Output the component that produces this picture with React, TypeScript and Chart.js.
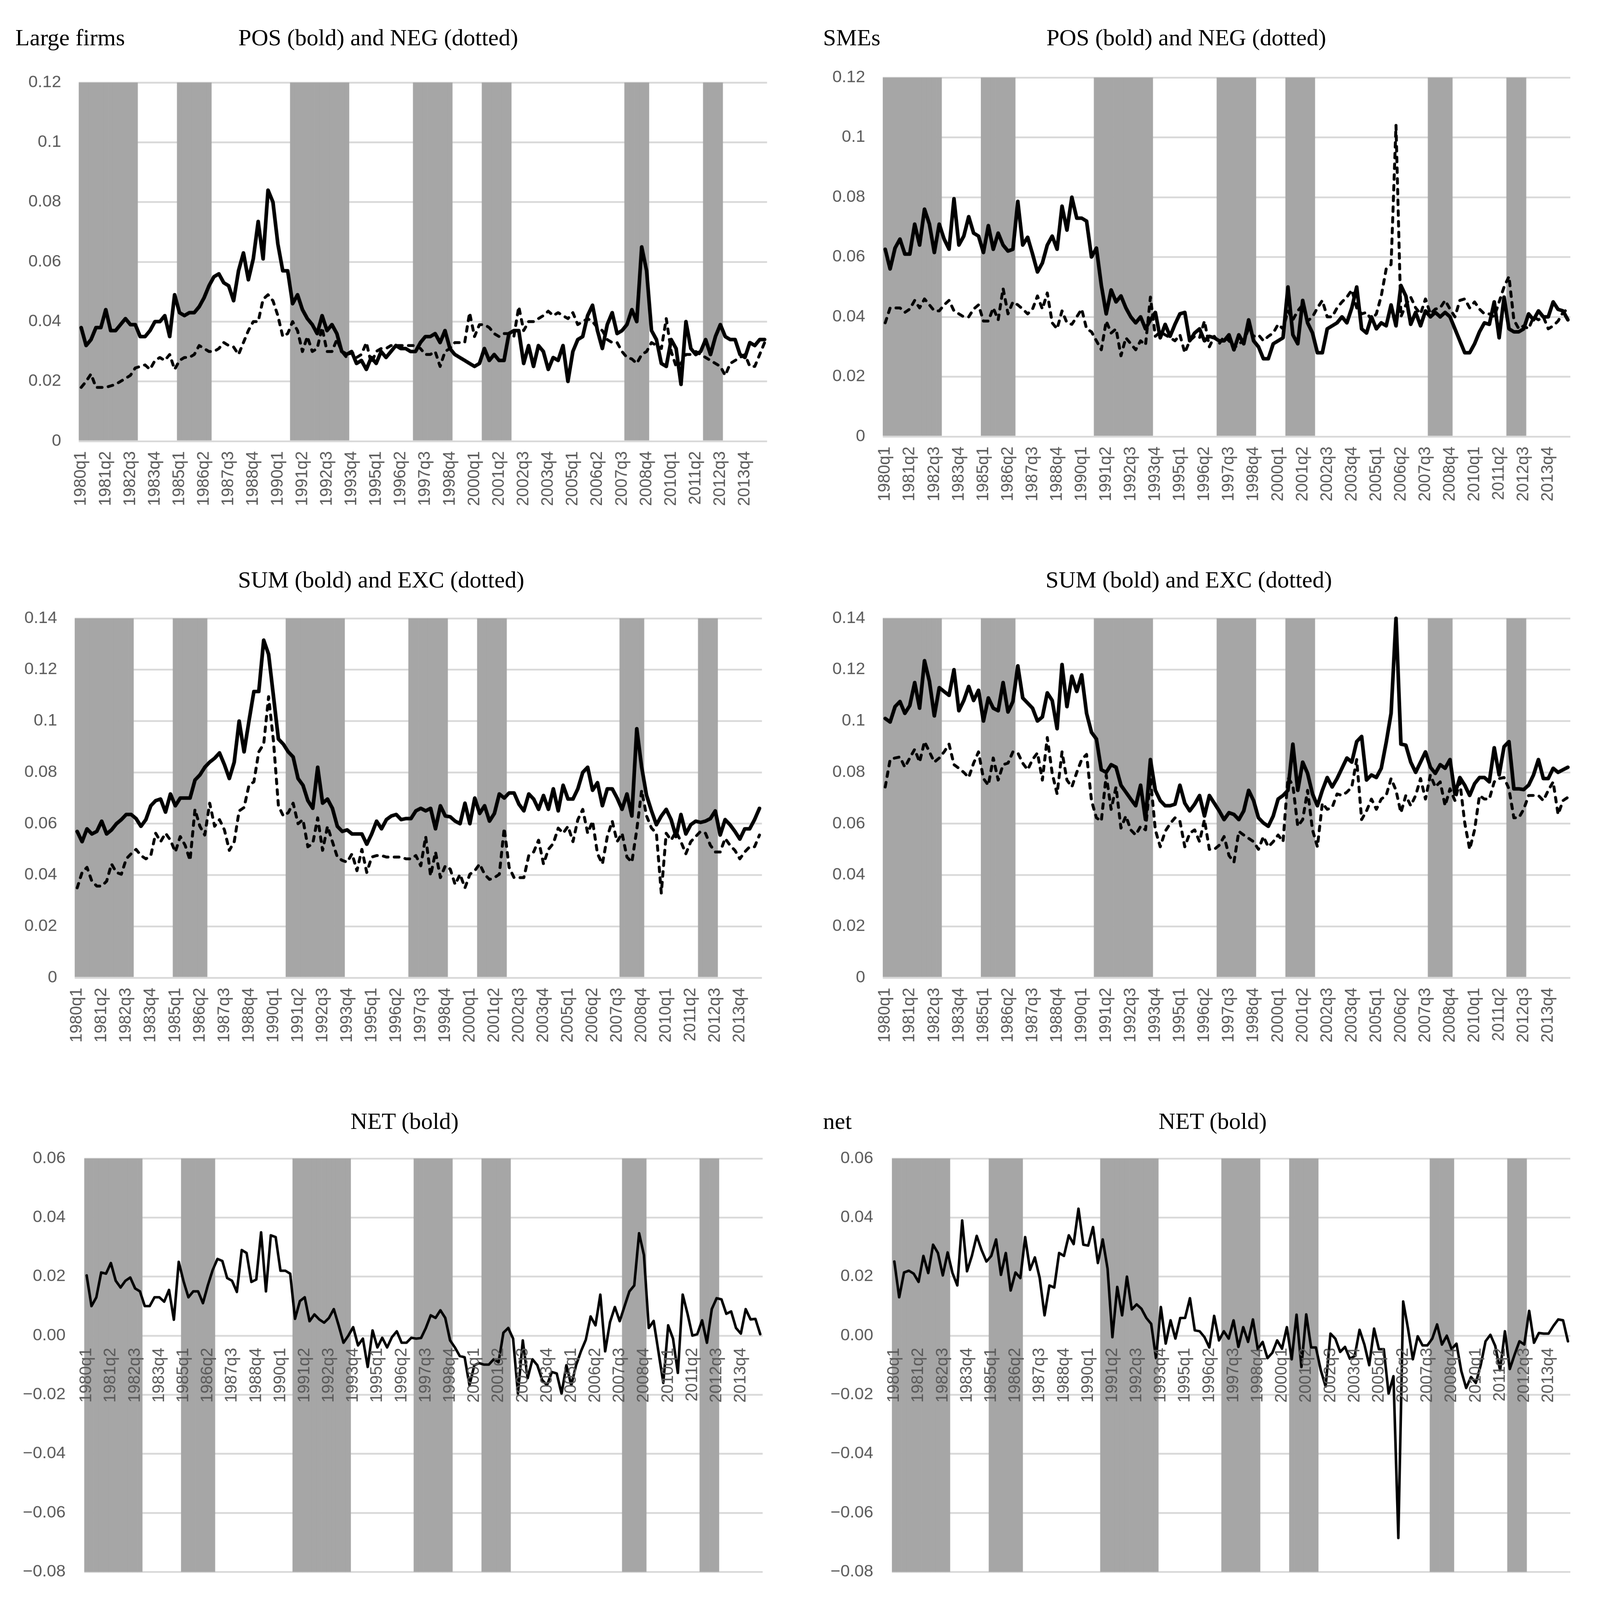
import React, { useEffect, useRef, useState } from 'react';
import { Chart, registerables } from 'chart.js';
Chart.register(...registerables);

const SANS = "'Liberation Sans', Arial, sans-serif";
const SERIF = "'Liberation Serif', 'Times New Roman', serif";
const PAGE_W = 4370;
const PAGE_H = 4479;

// Quarterly categories 1980q1 .. 2014q4
const years: number[] = [];
for (let y = 1980; y <= 2014; y++) years.push(y);
const categories: string[] = [];
years.forEach((y) => { for (let q = 1; q <= 4; q++) categories.push(`${y}q${q}`); });

// Shaded periods (inclusive)
const recessionPeriods: [string, string][] = [
  ['1980q1', '1982q4'], ['1985q1', '1986q3'], ['1990q4', '1993q3'], ['1997q1', '1998q4'],
  ['2000q3', '2001q4'], ['2007q4', '2008q4'], ['2011q4', '2012q3'],
];
const recessionFlags = categories.map((_, i) =>
  recessionPeriods.some(([a, b]) => i >= categories.indexOf(a) && i <= categories.indexOf(b)));

const largePos = [
  .038,.032,.034,.038,.038,.044,.037,.037,.039,.041,
  .039,.039,.035,.035,.037,.040,.040,.042,.035,.049,
  .043,.042,.043,.043,.045,.048,.052,.055,.056,.053,
  .052,.047,.057,.063,.054,.061,.0735,.061,.084,.080,
  .066,.057,.057,.046,.049,.044,.041,.039,.036,.042,
  .037,.039,.036,.030,.029,.030,.026,.027,.024,.028,
  .026,.030,.028,.030,.032,.031,.031,.030,.030,.033,
  .035,.035,.036,.033,.037,.031,.029,.028,.027,.026,
  .025,.026,.031,.027,.029,.027,.027,.036,.037,.037,
  .026,.032,.025,.032,.030,.024,.028,.027,.032,.020,
  .030,.034,.035,.042,.0455,.037,.031,.039,.043,.036,
  .037,.039,.044,.040,.065,.057,.037,.034,.026,.025,
  .034,.031,.019,.040,.031,.029,.030,.034,.029,.035,
  .039,.035,.034,.034,.029,.028,.033,.032,.034,.034,
];
const largeNeg = [
  .018,.020,.0225,.018,.018,.018,.0185,.019,.020,.021,
  .022,.0245,.025,.0255,.024,.027,.028,.027,.029,.024,
  .027,.028,.028,.029,.032,.031,.030,.030,.031,.033,
  .032,.0315,.029,.033,.037,.040,.040,.0475,.049,.047,
  .042,.035,.036,.040,.037,.030,.035,.030,.031,.038,
  .030,.030,.034,.030,.028,.030,.028,.029,.033,.026,
  .030,.031,.031,.032,.032,.032,.032,.032,.032,.031,
  .029,.029,.030,.025,.030,.031,.033,.033,.033,.043,
  .035,.039,.039,.038,.036,.035,.036,.036,.035,.045,
  .037,.040,.040,.041,.042,.0435,.042,.043,.042,.041,
  .043,.039,.040,.041,.040,.038,.037,.034,.033,.033,
  .030,.028,.0275,.026,.029,.030,.033,.032,.031,.041,
  .030,.025,.026,.029,.029,.030,.029,.028,.027,.026,
  .025,.022,.026,.027,.028,.029,.025,.025,.029,.033,
];
const smePos = [
  .0626,.056,.063,.066,.061,.061,.071,.064,.076,.071,
  .0615,.071,.066,.0626,.0795,.064,.067,.0735,.068,.067,
  .0615,.0705,.0626,.068,.064,.062,.0626,.0786,.064,.0666,
  .061,.055,.058,.064,.067,.0626,.077,.069,.080,.073,
  .073,.072,.060,.063,.0506,.041,.049,.045,.047,.043,
  .040,.038,.040,.036,.039,.0415,.033,.0375,.0335,.0375,
  .041,.0415,.032,.0346,.036,.032,.0335,.033,.032,.032,
  .034,.029,.034,.031,.039,.032,.030,.026,.026,.031,
  .032,.033,.050,.034,.031,.0455,.038,.0346,.028,.028,
  .036,.037,.038,.040,.038,.043,.050,.036,.0346,.040,
  .036,.038,.037,.044,.037,.0505,.047,.0375,.0415,.037,
  .042,.040,.0415,.040,.0415,.040,.036,.032,.028,.028,
  .031,.035,.038,.0375,.045,.033,.0466,.036,.035,.035,
  .036,.041,.039,.042,.040,.040,.045,.0425,.042,.039,
];
const smeNeg = [
  .038,.043,.043,.043,.0415,.0426,.0455,.043,.046,.044,
  .042,.042,.044,.0455,.042,.041,.040,.040,.0426,.044,
  .0386,.0386,.043,.039,.0495,.041,.045,.044,.0426,.041,
  .0426,.047,.0426,.048,.038,.036,.042,.038,.0375,.040,
  .0426,.036,.035,.032,.029,.0386,.0346,.036,.027,.033,
  .031,.029,.032,.0306,.0466,.0335,.035,.034,.033,.032,
  .034,.028,.032,.0335,.033,.0386,.030,.0335,.031,.0335,
  .032,.0295,.031,.032,.036,.0335,.034,.032,.0335,.0346,
  .0375,.036,.042,.039,.042,.044,.0386,.040,.043,.0455,
  .040,.040,.043,.045,.0466,.049,.043,.041,.0415,.039,
  .041,.047,.056,.0575,.104,.040,.044,.0466,.043,.041,
  .046,.041,.0426,.043,.0455,.0426,.040,.0455,.046,.043,
  .045,.0426,.041,.041,.040,.045,.050,.0535,.039,.036,
  .037,.036,.040,.039,.040,.036,.037,.0386,.0415,.0426,
];
const largeSum = [
  .057,.053,.058,.056,.057,.061,.056,.0576,.060,.0616,
  .0636,.0636,.062,.059,.0616,.067,.069,.0696,.0645,.0716,
  .067,.070,.070,.070,.077,.079,.082,.084,.0855,.0876,
  .083,.0776,.084,.100,.088,.100,.1115,.1115,.1315,.126,
  .1095,.093,.091,.088,.086,.0776,.075,.069,.066,.082,
  .068,.0696,.066,.059,.057,.0576,.056,.056,.056,.052,
  .056,.061,.058,.0616,.063,.0636,.0616,.062,.062,.065,
  .066,.065,.066,.058,.067,.063,.0627,.061,.060,.068,
  .060,.070,.064,.067,.061,.064,.0716,.070,.072,.072,
  .0676,.065,.0716,.0696,.0656,.071,.0656,.0736,.065,.075,
  .0696,.0696,.0736,.080,.082,.073,.076,.067,.0736,.0736,
  .070,.0656,.0716,.063,.097,.082,.071,.065,.0596,.063,
  .0656,.0616,.055,.0636,.056,.0596,.061,.0605,.061,.062,
  .065,.0556,.0616,.0596,.057,.054,.058,.058,.0616,.066,
];
const largeExc = [
  .035,.041,.043,.0376,.0357,.0357,.0376,.0443,.041,.0403,
  .0463,.0483,.050,.0476,.0463,.0476,.0563,.053,.0563,.0536,
  .049,.055,.0516,.0457,.0656,.059,.0556,.068,.059,.0616,
  .0576,.0496,.053,.065,.0663,.075,.0763,.088,.091,.1095,
  .092,.067,.063,.0643,.068,.060,.0616,.051,.0523,.0623,
  .0496,.059,.053,.047,.0457,.045,.0483,.0417,.050,.041,
  .047,.0476,.0476,.047,.047,.047,.047,.0463,.0463,.0476,
  .0436,.055,.0397,.049,.039,.0436,.0423,.0363,.0403,.035,
  .0403,.0417,.0443,.0403,.0383,.039,.0403,.0583,.043,.039,
  .039,.039,.0476,.049,.0536,.0443,.050,.0523,.0583,.0563,
  .059,.053,.0616,.0656,.0563,.061,.0483,.0443,.055,.061,
  .053,.0563,.047,.045,.0576,.073,.063,.0583,.0563,.033,
  .0563,.0536,.057,.053,.0483,.053,.055,.057,.0563,.0516,
  .049,.049,.0543,.0516,.0496,.0463,.049,.051,.051,.0556,
];
const smeSum = [
  .101,.0996,.1056,.1076,.103,.106,.115,.105,.1235,.1155,
  .102,.113,.1115,.110,.120,.104,.108,.1135,.108,.112,
  .100,.109,.105,.104,.115,.1035,.1076,.1215,.109,.107,
  .105,.100,.1016,.111,.108,.097,.122,.1056,.1175,.1115,
  .118,.103,.0956,.093,.081,.080,.083,.082,.075,.0723,
  .0696,.067,.075,.0616,.085,.073,.069,.067,.067,.0676,
  .075,.068,.065,.0676,.071,.063,.071,.068,.065,.0616,
  .0643,.0636,.0616,.065,.073,.069,.0623,.0603,.059,.063,
  .0696,.071,.073,.091,.073,.084,.0796,.0716,.067,.073,
  .078,.0743,.0776,.0816,.0856,.084,.092,.094,.077,.079,
  .078,.0816,.0916,.103,.140,.091,.0906,.084,.080,.084,
  .088,.082,.0796,.083,.0816,.085,.0716,.078,.075,.071,
  .0756,.078,.078,.0763,.0896,.079,.090,.092,.0736,.0736,
  .0733,.075,.079,.085,.0776,.0776,.0816,.080,.081,.082,
];
const smeExc = [
  .0743,.085,.0856,.086,.082,.0856,.089,.084,.092,.088,
  .084,.0856,.088,.091,.083,.0816,.080,.078,.0836,.088,
  .0776,.075,.0856,.077,.083,.0836,.088,.0876,.0836,.081,
  .085,.0876,.077,.0936,.0796,.0716,.088,.077,.0743,.080,
  .085,.087,.069,.0623,.061,.079,.0656,.0743,.0583,.063,
  .0576,.0556,.059,.0576,.0776,.0576,.051,.057,.060,.0623,
  .061,.051,.0563,.0576,.053,.0616,.050,.050,.0516,.055,
  .0476,.045,.057,.0556,.0543,.053,.050,.055,.051,.053,
  .0556,.053,.078,.075,.059,.0616,.073,.0576,.051,.068,
  .0656,.0663,.0716,.071,.0723,.0743,.085,.0616,.065,.0696,
  .0656,.0696,.071,.0776,.073,.0643,.071,.067,.071,.0776,
  .0696,.079,.0743,.0763,.067,.0736,.069,.0763,.0603,.050,
  .0576,.071,.0696,.0696,.0763,.0776,.078,.0736,.0623,.0623,
  .0656,.071,.071,.071,.069,.073,.0763,.0636,.069,.0703,
];
const largeNet = [
  .0204,.010,.013,.0214,.021,.0246,.0186,.0163,.0186,.0197,
  .016,.015,.010,.010,.013,.013,.0115,.0155,.0054,.025,
  .0184,.013,.015,.015,.011,.017,.0222,.026,.0253,.0195,
  .0186,.0148,.029,.028,.0182,.019,.035,.015,.034,.0334,
  .022,.022,.021,.0057,.0117,.013,.0049,.0072,.0055,.0044,
  .006,.009,.0035,-.0024,0,.0029,-.0033,-.001,-.0106,.0018,
  -.004,-.0007,-.004,-.0005,.0015,-.0024,-.0024,-.0007,-.001,-.0008,
  .0026,.0069,.006,.0086,.006,-.0016,-.004,-.0069,-.0073,-.0168,
  -.010,-.0093,-.0098,-.0098,-.008,-.009,.001,.0026,-.001,-.0196,
  -.0016,-.0144,-.008,-.010,-.015,-.0168,-.0123,-.0128,-.0196,-.010,
  -.0168,-.010,-.0053,-.0014,.0065,.0035,.0139,-.0053,.0046,.0097,
  .0049,.010,.015,.017,.0347,.0273,.0026,.005,-.0055,-.016,
  .0035,-.001,-.0126,.0139,.0074,0,.0005,.0052,-.0024,.009,
  .0127,.0123,.0074,.0082,.0026,.0007,.009,.0055,.0057,.0005,
];
const smeNet = [
  .0251,.013,.0214,.022,.021,.0182,.027,.0212,.0308,.028,
  .0204,.0282,.0212,.017,.039,.0218,.027,.0338,.029,.0251,
  .027,.0326,.0206,.028,.0153,.0214,.0195,.0334,.0223,.0265,
  .0195,.0069,.017,.0163,.028,.027,.034,.031,.043,.0308,
  .0305,.0368,.0246,.0326,.0227,-.0005,.0165,.0069,.020,.0089,
  .0106,.0091,.006,.004,-.0076,.0097,-.0027,.0052,-.001,.006,
  .006,.0127,.0018,.0015,-.0005,-.004,.0067,-.0016,.0015,-.001,
  .0052,-.0038,.0029,-.0021,.0055,-.0046,-.0021,-.0076,-.0058,-.0016,
  -.0044,.0029,-.008,.0071,-.0106,.0072,-.004,-.004,-.0117,-.0172,
  .0007,-.001,-.0055,-.0038,-.0078,-.0069,.002,-.003,-.010,.0024,
  -.0046,-.0046,-.0196,-.0137,-.0685,.0116,.0024,-.008,-.0002,-.0033,
  -.0033,-.001,.0038,-.003,0,-.0046,-.0027,-.012,-.0177,-.014,
  -.016,-.010,-.0019,.0003,-.0035,-.0117,.0015,-.0113,-.0064,-.0019,
  -.003,.0084,-.0024,.0009,.0007,.0007,.0033,.0055,.0052,-.0019,
];

const fmtGeneral = (v: number) => String(Math.round(v * 100) / 100);
const fmtFixed = (v: number) => {
  const r = Math.round(v * 100) / 100;
  const s = Math.abs(r).toFixed(2);
  return r < 0 ? '\u2212' + s : s;
};

type Series = { data: number[]; width: number; dash?: number[] };
type PanelCfg = {
  x: number; y: number; w: number; h: number;
  area: { l: number; t: number; r: number; b: number };
  yMin: number; yMax: number; net: boolean; series: Series[];
};

const BOLD = 10;
const DASHED = 8;
const DASH = [13, 17];
const NETW = 7;

const panels: PanelCfg[] = [
  { x: 0, y: 0, w: 2185, h: 1500, area: { l: 215, t: 231, r: 2095, b: 1235 }, yMin: 0, yMax: 0.12, net: false,
    series: [{ data: largePos, width: BOLD }, { data: largeNeg, width: DASHED, dash: DASH }] },
  { x: 2185, y: 0, w: 2185, h: 1500, area: { l: 226, t: 217, r: 2104, b: 1222 }, yMin: 0, yMax: 0.12, net: false,
    series: [{ data: smePos, width: BOLD }, { data: smeNeg, width: DASHED, dash: DASH }] },
  { x: 0, y: 1500, w: 2185, h: 1500, area: { l: 204, t: 231, r: 2081, b: 1237 }, yMin: 0, yMax: 0.14, net: false,
    series: [{ data: largeSum, width: BOLD }, { data: largeExc, width: DASHED, dash: DASH }] },
  { x: 2185, y: 1500, w: 2185, h: 1500, area: { l: 226, t: 231, r: 2104, b: 1237 }, yMin: 0, yMax: 0.14, net: false,
    series: [{ data: smeSum, width: BOLD }, { data: smeExc, width: DASHED, dash: DASH }] },
  { x: 0, y: 3000, w: 2185, h: 1479, area: { l: 230, t: 243, r: 2083, b: 1419 }, yMin: -0.08, yMax: 0.06, net: true,
    series: [{ data: largeNet, width: NETW }] },
  { x: 2185, y: 3000, w: 2185, h: 1479, area: { l: 251, t: 243, r: 2104, b: 1419 }, yMin: -0.08, yMax: 0.06, net: true,
    series: [{ data: smeNet, width: NETW }] },
];

const texts = [
  { text: 'Large firms', x: 42, y: 106, center: false },
  { text: 'POS (bold) and NEG (dotted)', x: 1033, y: 106, center: true },
  { text: 'SMEs', x: 2248, y: 106, center: false },
  { text: 'POS (bold) and NEG (dotted)', x: 3240, y: 106, center: true },
  { text: 'SUM (bold) and EXC (dotted)', x: 1041, y: 1624, center: true },
  { text: 'SUM (bold) and EXC (dotted)', x: 3247, y: 1624, center: true },
  { text: 'NET (bold)', x: 1105, y: 3139, center: true },
  { text: 'net', x: 2248, y: 3139, center: false },
  { text: 'NET (bold)', x: 3312, y: 3139, center: true },
];

function Panel({ p }: { p: PanelCfg }) {
  const ref = useRef<HTMLCanvasElement>(null);
  useEffect(() => {
    const cv = ref.current;
    if (!cv) return;
    const a = p.area;
    const shade = recessionFlags.map((f) => (f ? [p.yMin, p.yMax] : null));
    const lineSets: any[] = p.series.map((s, k) => ({
      type: 'line',
      data: s.data,
      borderColor: '#000000',
      borderWidth: s.width,
      borderDash: s.dash ?? [],
      borderJoinStyle: 'round',
      borderCapStyle: 'round',
      pointRadius: 0,
      pointHoverRadius: 0,
      tension: 0,
      fill: false,
      clip: false,
      order: k,
    }));
    const tickFont = { family: SANS, size: 46 };
    const chart = new Chart(cv, {
      type: 'bar',
      data: {
        labels: categories,
        datasets: [
          ...lineSets,
          {
            type: 'bar',
            data: shade as any,
            backgroundColor: '#a6a6a6',
            borderWidth: 0,
            barPercentage: 1,
            categoryPercentage: 1,
            order: 10,
          },
        ],
      },
      options: {
        responsive: false,
        maintainAspectRatio: false,
        animation: false,
        devicePixelRatio: 1,
        events: [],
        layout: { padding: { left: 0, top: a.t, right: p.w - a.r, bottom: p.net ? p.h - a.b : 0 } },
        plugins: { legend: { display: false }, tooltip: { enabled: false }, title: { display: false } },
        scales: {
          x: {
            type: 'category',
            position: p.net ? ({ y: 0 } as any) : 'bottom',
            offset: true,
            grid: { display: false, drawTicks: false },
            border: { display: false },
            ticks: {
              autoSkip: false,
              minRotation: 90,
              maxRotation: 90,
              padding: p.net ? 34 : 28,
              color: '#595959',
              font: tickFont,
              z: p.net ? 1 : 0,
              callback: (_v: any, i: number) => (i % 5 === 0 ? categories[i] : null),
            },
            afterFit: p.net ? undefined : (s: any) => { s.height = p.h - a.b; },
          } as any,
          y: {
            min: p.yMin,
            max: p.yMax,
            grid: { color: '#d9d9d9', lineWidth: 5, drawTicks: false },
            border: { display: false },
            ticks: {
              stepSize: 0.02,
              padding: p.net ? 51 : 48,
              color: '#595959',
              font: tickFont,
              callback: (v: any) => (p.net ? fmtFixed(Number(v)) : fmtGeneral(Number(v))),
            },
            afterFit: (s: any) => { s.width = a.l; },
          } as any,
        },
      } as any,
    });
    return () => chart.destroy();
  }, [p]);
  return (
    <canvas
      ref={ref}
      width={p.w}
      height={p.h}
      style={{ position: 'absolute', left: p.x, top: p.y, width: p.w, height: p.h }}
    />
  );
}

function viewport() {
  return { w: window.innerWidth || PAGE_W, h: window.innerHeight || PAGE_H };
}

export default function App() {
  const [vp, setVp] = useState(viewport());
  useEffect(() => {
    document.documentElement.style.overflow = 'hidden';
    document.body.style.overflow = 'hidden';
    document.body.style.margin = '0';
    const on = () => setVp(viewport());
    on();
    window.addEventListener('resize', on);
    return () => window.removeEventListener('resize', on);
  }, []);
  const sx = Math.min(1, vp.w / PAGE_W);
  const sy = Math.min(1, vp.h / PAGE_H);
  return (
    <div
      style={{
        position: 'absolute', left: 0, top: 0, width: PAGE_W, height: PAGE_H,
        background: '#ffffff', overflow: 'hidden',
        transform: `scale(${sx}, ${sy})`, transformOrigin: '0 0',
      }}
    >
      {panels.map((p, i) => <Panel key={i} p={p} />)}
      {texts.map((t, i) => (
        <div
          key={'t' + i}
          style={{
            position: 'absolute',
            left: t.x,
            top: t.y,
            transform: t.center ? 'translate(-50%, -50%)' : 'translateY(-50%)',
            fontFamily: SERIF,
            fontSize: 64,
            lineHeight: 1,
            whiteSpace: 'nowrap',
            color: '#000000',
          }}
        >
          {t.text}
        </div>
      ))}
    </div>
  );
}
